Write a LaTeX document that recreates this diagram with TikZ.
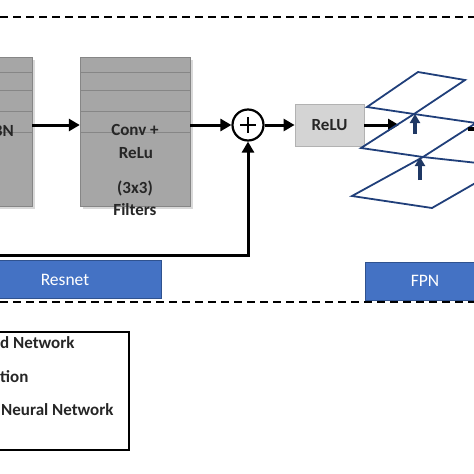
\documentclass[tikz,border=0pt]{standalone}
\usepackage{fontspec}
\setmainfont{Carlito}
\usetikzlibrary{arrows.meta}
\definecolor{layergray}{HTML}{A6A6A6}
\definecolor{relugray}{HTML}{D4D4D4}
\definecolor{bandblue}{HTML}{4472C4}
\definecolor{bandedge}{HTML}{2F528F}
\definecolor{planeblue}{HTML}{203F7A}
\definecolor{navy}{HTML}{1F3864}
\begin{document}
\begin{tikzpicture}[x=1pt,y=-1pt,
  arr/.style={line width=3pt,-{Triangle[length=11pt,width=12pt]}},
  uparr/.style={navy,line width=3.5pt,-{Triangle[length=9pt,width=10pt]}},
  layer/.style={fill=layergray,draw=gray!95,line width=0.7pt},
  plane/.style={planeblue,line width=1.8pt,line join=miter},
  band/.style={fill=bandblue,draw=bandedge,line width=1pt,text=white,minimum height=38pt,font=\fontsize{17.5}{21}\selectfont},
  lbl/.style={font=\fontsize{17}{20}\selectfont\bfseries,text=black!85,inner sep=0pt}]
\useasboundingbox (0,0) rectangle (474,474);
\clip (0,0) rectangle (474,474);

% dashed separators
\draw[line width=1.8pt,dash pattern=on 8pt off 5pt] (0,17) -- (474,17);
\draw[line width=1.8pt,dash pattern=on 8pt off 5pt] (0,302) -- (474,302);

% stacked filter blocks
\foreach \x in {-78,80}{
\fill[gray!30] (\x+3,60) rectangle (\x+113,209);
\foreach \t in {57,72,90,111,132}{
\draw[layer] (\x,\t) rectangle (\x+110,\t+74);
}
}
\node[minimum width=110pt,minimum height=149pt,inner sep=0pt] (bn) at (-23,131.5) {};
\node[minimum width=110pt,minimum height=149pt,inner sep=0pt] (conv) at (135,131.5) {};
\node[lbl,anchor=base east] (bntxt) at (14,136) {BN};
\node[lbl,anchor=base] (convtxt) at (135,135) {Conv +};
\node[lbl,anchor=base] (relutxt) at (136,158) {ReLu};
\node[lbl,anchor=base] (sizetxt) at (135,193) {(3x3)};
\node[lbl,anchor=base] (filttxt) at (135,215) {Filters};

% sum and activation
\node[circle,draw,line width=2.2pt,minimum size=31pt,inner sep=0pt] (add) at (248,125) {};
\draw[line width=2pt] (add.center) ++(-8,0) -- ++(16,0);
\draw[line width=2pt] (add.center) ++(0,-8) -- ++(0,16);
\node[lbl,fill=relugray,draw=gray!60,line width=0.8pt,minimum width=69pt,minimum height=42pt] (relu) at (329.5,125) {ReLU};

\coordinate (skipin) at (0,255);
\coordinate (fpnin) at (399,125);
\draw[arr] (bn.east |- add) -- (conv.west |- add);
\draw[arr] (conv.east |- add) -- (add.west);
\draw[arr] (add.east) -- (relu.west);
\draw[arr] (relu.east) -- (fpnin);
\draw[arr,line join=miter] (skipin) -| (add.south);

% feature pyramid planes
\coordinate (p1l) at (367,107);
\coordinate (p1t) at (418,72);
\coordinate (p1r) at (465,80);
\coordinate (p1b) at (414,114);
\coordinate (p2l) at (361,148);
\coordinate (p2r) at (476,123);
\coordinate (p2b) at (423,157);
\coordinate (p3l) at (352,196);
\coordinate (p3r) at (505,166);
\coordinate (p3b) at (432,208);
\draw[plane] (p1l) -- (p1t) -- (p1r) -- (p1b) -- cycle;
\draw[plane] (p2l) -- (p1b) -- (p2r) -- (p2b) -- cycle;
\draw[plane] (p3l) -- (p2b) -- (p3r) -- (p3b) -- cycle;
\coordinate (up1) at (415,134);
\coordinate (up2) at (420,180);
\draw[uparr] (up1) -- (up1 |- p1b);
\draw[uparr] (up2) -- (up2 |- p2b);
\coordinate (fpnright) at (486,129);
\coordinate (fpnmid) at (468,129);
\draw[line width=3.5pt] (fpnright) -- (fpnmid);

% section bands
\node[band,minimum width=192pt] (resnet) at (65,279.5) {Resnet};
\node[band,minimum width=120pt] (fpn) at (425,281) {FPN};

% legend
\draw[line width=1.8pt] (-120,332) rectangle (129,450);
\node[lbl,anchor=base west] (leg1) at (0,348) {d Network};
\node[lbl,anchor=base west] (leg2) at (0,382) {tion};
\node[lbl,anchor=base west] (leg3) at (1,415) {Neural Network};
\end{tikzpicture}
\end{document}
